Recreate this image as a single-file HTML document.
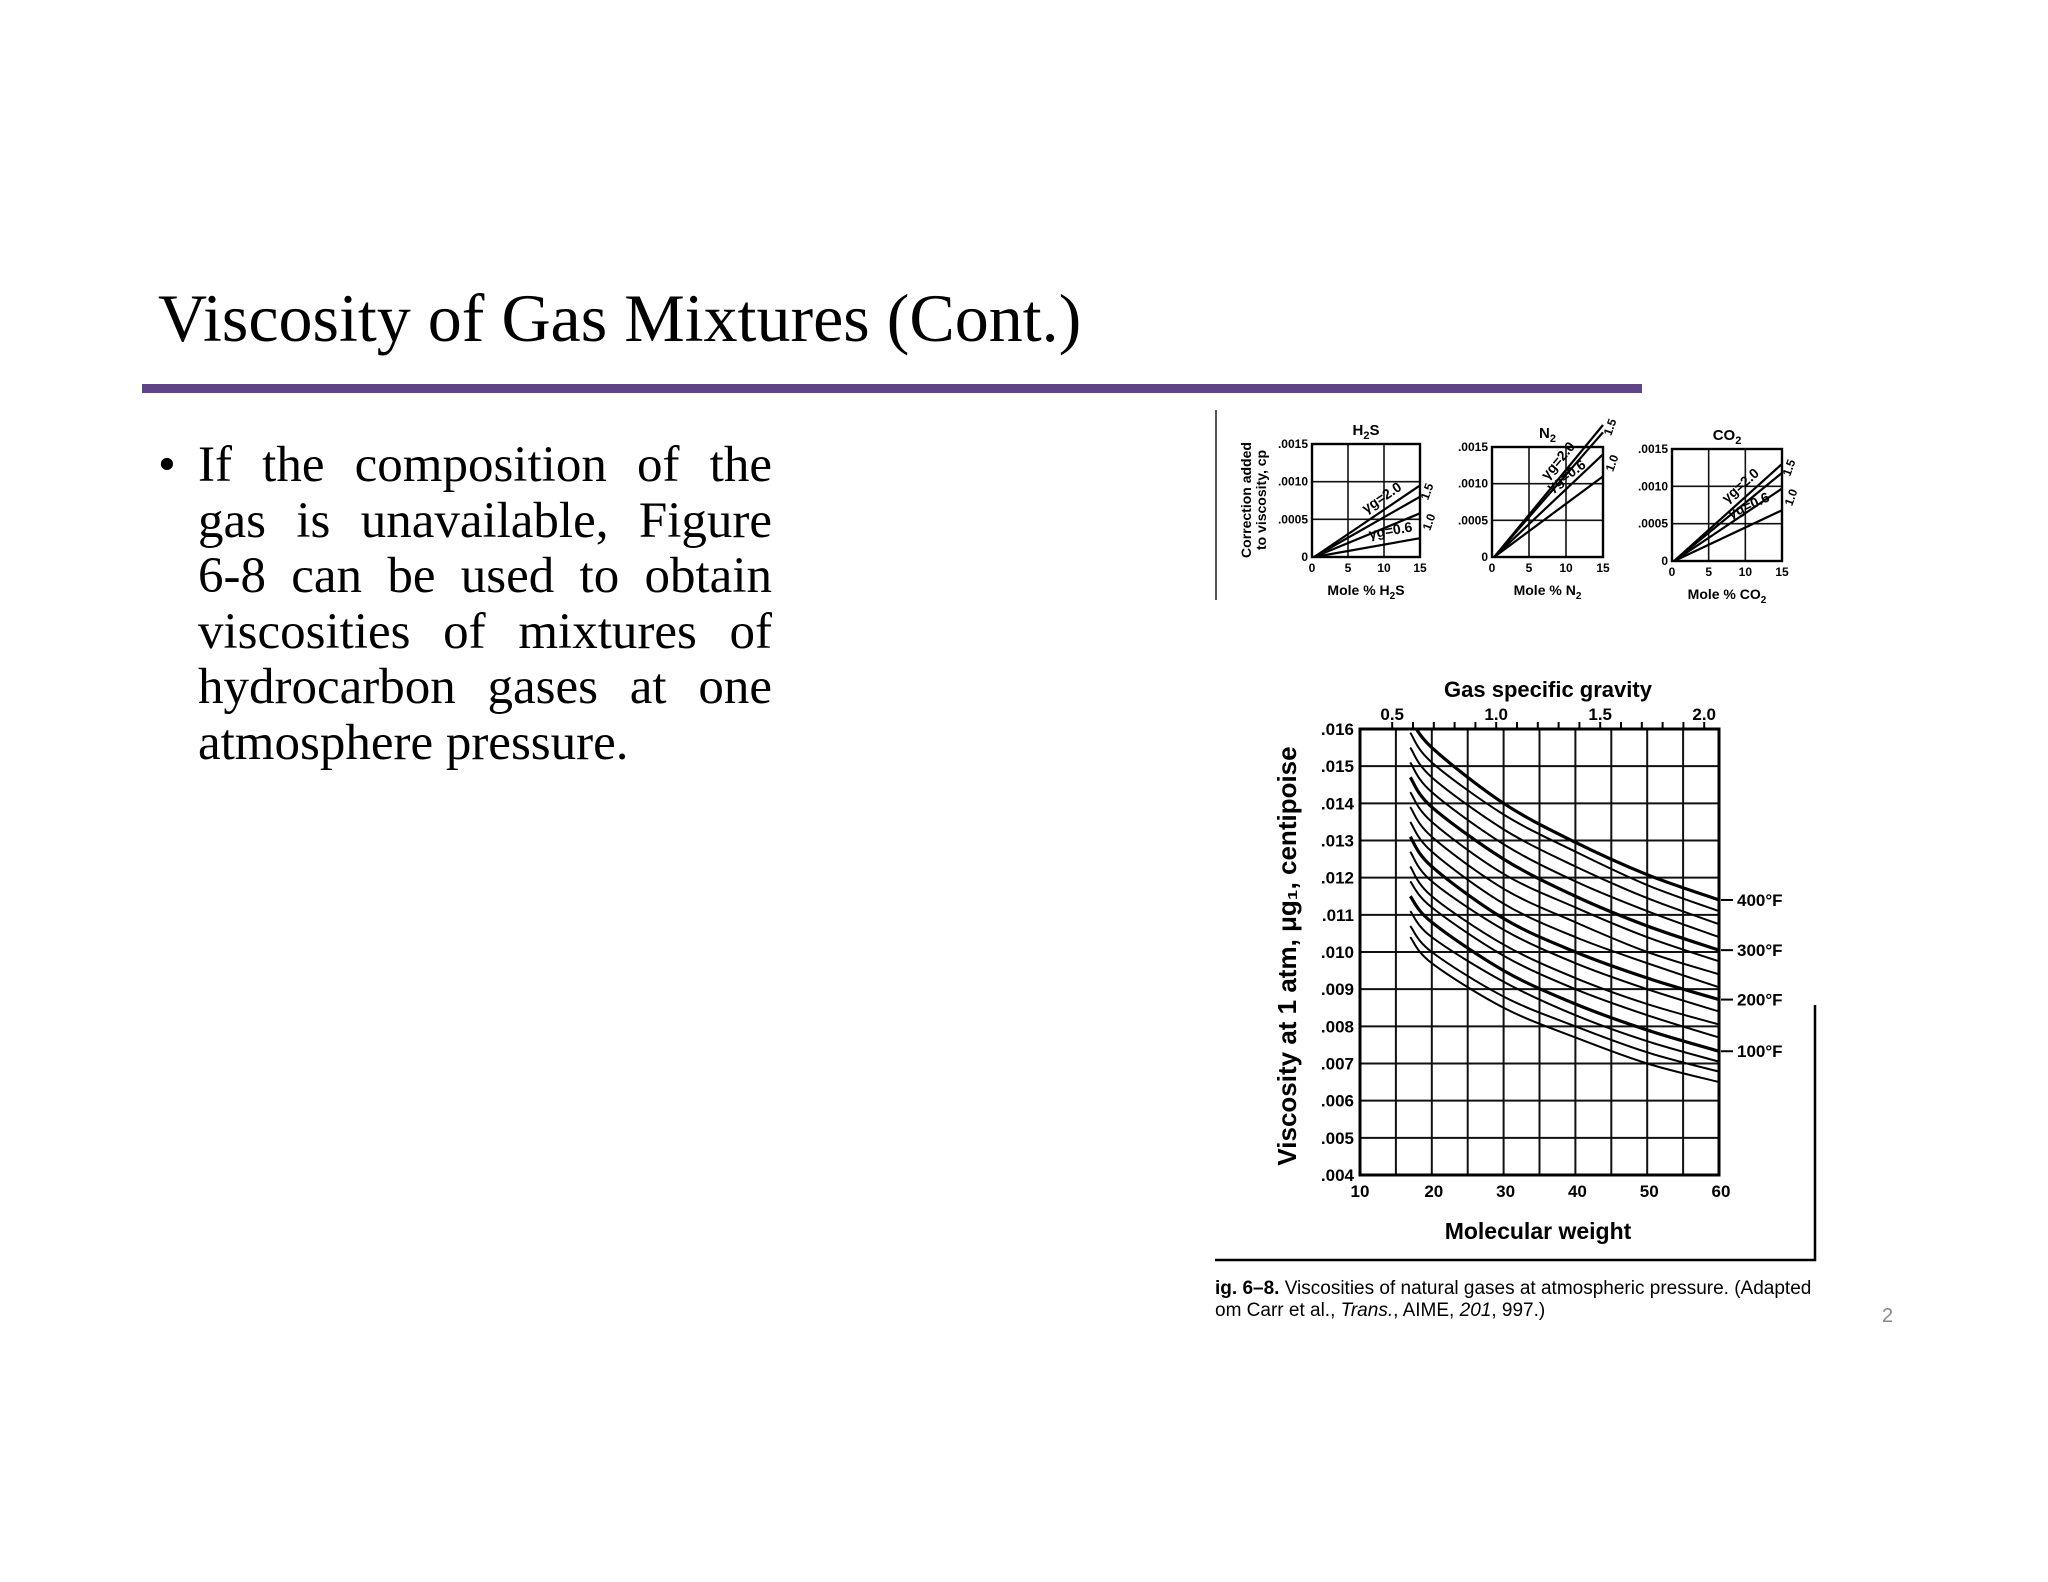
<!DOCTYPE html>
<html><head><meta charset="utf-8">
<style>
body{margin:0;width:2048px;height:1582px;background:#fff;position:relative;overflow:hidden;font-family:"Liberation Serif",serif}
#title{position:absolute;left:158px;top:284px;font-size:68px;line-height:68px;white-space:nowrap;color:#000}
#bar{position:absolute;left:142px;top:384px;width:1500px;height:9px;background:#5f4585}
#bullet{position:absolute;left:198px;top:438px;width:574px;font-size:51px;line-height:55.5px;text-align:justify;color:#000}
#dot{position:absolute;left:158px;top:438px;font-size:51px;line-height:55.5px}
#pg{position:absolute;left:1882px;top:1305px;font:20px "Liberation Sans",sans-serif;color:#888}
svg{position:absolute;left:0;top:0}
</style></head><body>
<div id="title">Viscosity of Gas Mixtures (Cont.)</div>
<div id="bar"></div>
<div id="dot">•</div>
<div id="bullet">If the composition of the gas is unavailable, Figure <span style="white-space:nowrap">6-8</span> can be used to obtain viscosities of mixtures of hydrocarbon gases at one atmosphere pressure.</div>
<div id="pg">2</div>
<svg id="fig" width="2048" height="1582" font-family="Liberation Sans, sans-serif"></svg>
<script>
const mwTicks=[10,20,30,40,50,60];
const visTicks=[".016",".015",".014",".013",".012",".011",".010",".009",".008",".007",".006",".005",".004"];
const sgLabels=[0.5,1.0,1.5,2.0];
const curveMW=[17,20,30,40,50,60];
const c0=[.0163,.0155,.0140,.01295,.01208,.0114];
const c1=[.0159,.0151,.0137,.0127,.0118,.0111];
const c2=[.0155,.0147,.0133,.0123,.01145,.01075];
const c3=[.0151,.0143,.0129,.0119,.0111,.0104];
const c4=[.0147,.0139,.0125,.0115,.0107,.01005];
const c5=[.0143,.0135,.0121,.0112,.0104,.00975];
const c6=[.0139,.0131,.0117,.0108,.0100,.0094];
const c7=[.0135,.0127,.0113,.0104,.0097,.00905];
const c8=[.0131,.0123,.0109,.0100,.0093,.00872];
const c9=[.0127,.0119,.0106,.0097,.0090,.0084];
const c10=[.0123,.0115,.0102,.0093,.0086,.00805];
const c11=[.0119,.0112,.0099,.0090,.0083,.0077];
const c12=[.0115,.0108,.0095,.0086,.0079,.00733];
const c13=[.0111,.0104,.0092,.0083,.0076,.00705];
const c14=[.0107,.0100,.0088,.0080,.0073,.00678];
const c15=[.0104,.0097,.0085,.0077,.0070,.0065];
const curves=[c0,c1,c2,c3,c4,c5,c6,c7,c8,c9,c10,c11,c12,c13,c14,c15];
const tempLabels=["400°F","300°F","200°F","100°F"];
const tempCurveIdx=[0,4,8,12];
const molePct=[0,5,10,15];
const corrTicks=[".0015",".0010",".0005","0"];
const h2sEnd=[.00095,.00080,.00058,.00025];
const n2End=[.00180,.00170,.00140,.00110];
const co2End=[.00130,.00118,.00097,.00068];

const NS="http://www.w3.org/2000/svg";
const svg=document.getElementById('fig');
function mk(t,a,p){const e=document.createElementNS(NS,t);for(const k in a)e.setAttribute(k,a[k]);(p||svg).appendChild(e);return e;}
function txt(s,a,p){const e=mk('text',a,p);e.textContent=s;return e;}

const L=1360,R=1719,T=729,B=1175;
const xM=m=>L+(m-10)/50*(R-L);
const yV=v=>B-(v-0.004)/0.012*(B-T);
const g=mk('g',{});


for(let m=15;m<60;m+=5){const l=mk('line',{x1:xM(m),x2:xM(m),y1:T,y2:B,stroke:'#111','stroke-width':2},g);}
for(let i=1;i<12;i++){const v=0.004+i*0.001;const l=mk('line',{x1:L,x2:R,y1:yV(v),y2:yV(v),stroke:'#111','stroke-width':2},g);}
const fr=mk('rect',{x:L,y:T,width:R-L,height:B-T,fill:'none',stroke:'#000','stroke-width':3},g);

const cp=mk('clipPath',{id:'cp'},g);
mk('rect',{x:L,y:T,width:R-L,height:B-T},cp);
function smooth(pts){let d=`M${pts[0][0]},${pts[0][1]}`;for(let i=0;i<pts.length-1;i++){const p0=pts[i-1]||pts[i],p1=pts[i],p2=pts[i+1],p3=pts[i+2]||p2;d+=` C${p1[0]+(p2[0]-p0[0])/6},${p1[1]+(p2[1]-p0[1])/6} ${p2[0]-(p3[0]-p1[0])/6},${p2[1]-(p3[1]-p1[1])/6} ${p2[0]},${p2[1]}`;}return d;}
curves.forEach((c,i)=>{const pts=c.map((v,j)=>[xM(curveMW[j]),yV(v)]);const heavy=i%4===0;
 const p=mk('path',{d:smooth(pts),fill:'none',stroke:'#000','stroke-width':heavy?3.2:2,'clip-path':'url(#cp)'},g);
 });
visTicks.forEach((s,i)=>{const t=txt(s,{x:L-6,y:yV(0.016-i*0.001)+6,'font-size':17,'font-weight':'bold','text-anchor':'end'},g);});
mwTicks.forEach(m=>{const t=txt(m,{x:xM(m)+(m==10?0:2),y:1197,'font-size':17,'font-weight':'bold','text-anchor':'middle'},g);});
for(let s=0.5;s<=2.05;s+=0.1){const x=xM(s*28.97);if(x>R)break;mk('line',{x1:x,x2:x,y1:T-7,y2:T,stroke:'#000','stroke-width':2},g);}
sgLabels.forEach(s=>{const t=txt(s.toFixed(1),{x:xM(s*28.97),y:720,'font-size':17,'font-weight':'bold','text-anchor':'middle'},g);});
let t=txt('Gas specific gravity',{x:1548,y:697,'font-size':22,'font-weight':'bold','text-anchor':'middle'},g);
t=txt('Molecular weight',{x:1538,y:1239,'font-size':23,'font-weight':'bold','text-anchor':'middle'},g);
t=txt('Viscosity  at 1 atm, μg₁, centipoise',{x:0,y:0,'font-size':26,'font-weight':'bold','text-anchor':'middle',transform:'translate(1296,956) rotate(-90)'},g);
tempLabels.forEach((s,i)=>{const y=yV(curves[tempCurveIdx[i]][5]);mk('line',{x1:R+2,x2:R+14,y1:y,y2:y,stroke:'#000','stroke-width':2},g);
 const e=txt(s,{x:R+18,y:y+6,'font-size':17,'font-weight':'bold'},g);});
mk('polyline',{points:'1215,1260 1815,1260 1815,1005',fill:'none',stroke:'#000','stroke-width':2.5});
mk('line',{x1:1216,x2:1216,y1:410,y2:600,stroke:'#555','stroke-width':2});
const cap=txt('',{x:1215,y:1294,'font-size':19});

cap.innerHTML='<tspan font-weight="bold">ig. 6–8.</tspan> Viscosities of natural gases at atmospheric pressure. (Adapted';
const cap2=txt('',{x:1215,y:1316,'font-size':19});

cap2.innerHTML='om Carr et al., <tspan font-style="italic">Trans.</tspan>, AIME, <tspan font-style="italic">201</tspan>, 997.)';

function small(name,sub,x0,x1,y0,y1,ends,labelName){
 const gg=mk('g',{});
 const xs=p=>x0+p/15*(x1-x0), ys=v=>y1-v/0.0015*(y1-y0);
 for(const p of [5,10])mk('line',{x1:xs(p),x2:xs(p),y1:y0,y2:y1,stroke:'#111','stroke-width':1.6},gg);
 for(const v of [.0005,.0010])mk('line',{x1:x0,x2:x1,y1:ys(v),y2:ys(v),stroke:'#111','stroke-width':1.6},gg);
 mk('rect',{x:x0,y:y0,width:x1-x0,height:y1-y0,fill:'none',stroke:'#000','stroke-width':2.4},gg);
 ends.forEach((v,i)=>{const l=mk('line',{x1:xs(0.3),y1:ys(0),x2:xs(15),y2:ys(v),stroke:'#000','stroke-width':2.2},gg);});
 corrTicks.forEach((s,i)=>{txt(s,{x:x0-4,y:ys(0.0015-i*0.0005)+4,'font-size':12,'font-weight':'bold','text-anchor':'end'},gg);});
 molePct.forEach(p=>txt(p,{x:xs(p),y:y1+15,'font-size':12,'font-weight':'bold','text-anchor':'middle'},gg));
 const tt=txt('',{x:(x0+x1)/2,y:y0-9,'font-size':15,'font-weight':'bold','text-anchor':'middle'},gg);tt.innerHTML=name+'<tspan dy="4" font-size="11">2</tspan>'+(sub?'<tspan dy="-4">'+sub+'</tspan>':'');
 const xl=txt('',{x:(x0+x1)/2,y:y1+38,'font-size':14,'font-weight':'bold','text-anchor':'middle'},gg);xl.innerHTML='Mole % '+labelName;
 const a=Math.atan2(ys(ends[0])-ys(0),xs(15)-xs(0))*180/Math.PI;
 txt('γg=2.0',{x:0,y:0,'font-size':14,'font-weight':'bold',transform:`translate(${xs(7.5)},${ys(ends[0]*0.55)-4}) rotate(${a})`},gg);
 const a2=Math.atan2(ys(ends[3])-ys(0),xs(15)-xs(0))*180/Math.PI;
 txt('γg=0.6',{x:0,y:0,'font-size':14,'font-weight':'bold',transform:`translate(${xs(8)},${ys(ends[3]*0.75)-4}) rotate(${a2})`},gg);
 txt('1.5',{x:0,y:0,'font-size':12,'font-weight':'bold',transform:`translate(${xs(15)+8},${Math.max(ys(ends[1]),y0-20)+4}) rotate(-70)`},gg);
 txt('1.0',{x:0,y:0,'font-size':12,'font-weight':'bold',transform:`translate(${xs(15)+10},${Math.max(ys(ends[2]),y0-10)+18}) rotate(-70)`},gg);
}
small('H','S',1312,1420,444,557,h2sEnd,'H<tspan dy="4" font-size="10">2</tspan><tspan dy="-4">S</tspan>');
small('N','',1492,1603,447,557,n2End,'N<tspan dy="4" font-size="10">2</tspan>');
small('CO','',1672,1782,449,561,co2End,'CO<tspan dy="4" font-size="10">2</tspan>');
t=txt('Correction added',{x:0,y:0,'font-size':14,'font-weight':'bold','text-anchor':'middle',transform:'translate(1251,500) rotate(-90)'});

t=txt('to viscosity, cp',{x:0,y:0,'font-size':14,'font-weight':'bold','text-anchor':'middle',transform:'translate(1266,500) rotate(-90)'});

</script>
</body></html>
